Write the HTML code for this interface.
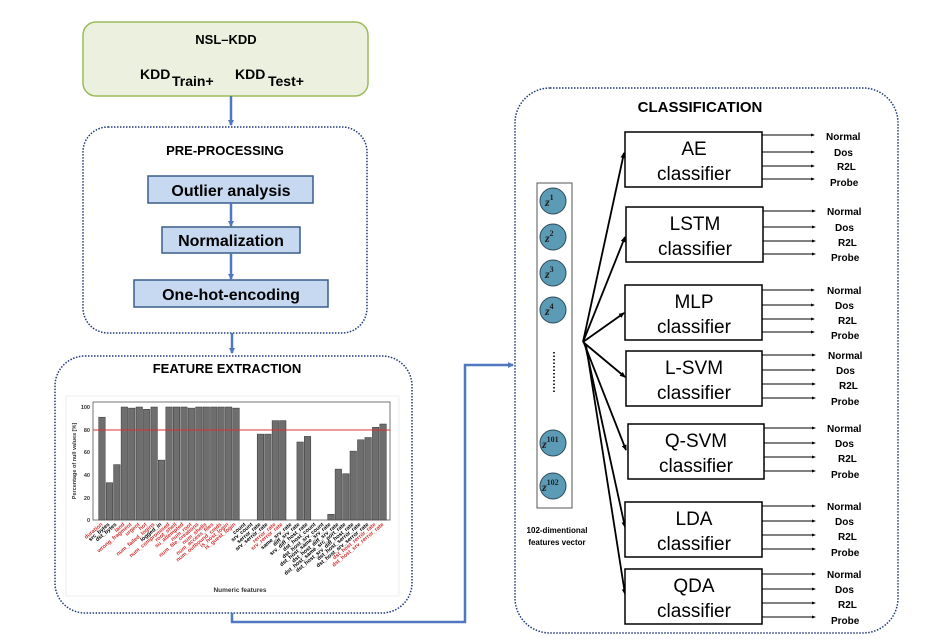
<!DOCTYPE html>
<html><head><meta charset="utf-8"><style>
html,body{margin:0;padding:0;background:#fff}
svg{display:block;font-family:"Liberation Sans",Arial,sans-serif}
.b{font-weight:bold}
.fl text{font-size:5.5px;font-weight:bold}
</style></head><body>
<svg width="940" height="639" viewBox="0 0 940 639" xmlns="http://www.w3.org/2000/svg">
<defs>
<marker id="ba" markerWidth="6" markerHeight="6" refX="5" refY="3" orient="auto" markerUnits="userSpaceOnUse"><path d="M0,0 L6,3 L0,6 z" fill="#4f78c0"/></marker>
<marker id="ka" markerWidth="6" markerHeight="6" refX="5" refY="3" orient="auto" markerUnits="userSpaceOnUse"><path d="M0,0.5 L6,3 L0,5.5 z" fill="#000"/></marker>
<marker id="sa" markerWidth="4" markerHeight="4" refX="3" refY="2" orient="auto" markerUnits="userSpaceOnUse"><path d="M0,0.5 L4,2 L0,3.5 z" fill="#000"/></marker>
</defs>

<!-- NSL-KDD -->
<rect x="83" y="22" width="285" height="74" rx="13" fill="#ebf1de" stroke="#9bbb59" stroke-width="1.5"/>
<text x="226" y="44" text-anchor="middle" class="b" font-size="13">NSL–KDD</text>
<g class="b" font-size="14">
<text x="140" y="79">KDD</text><text x="172" y="86">Train+</text>
<text x="235" y="79">KDD</text><text x="268" y="86">Test+</text>
</g>
<line x1="231" y1="96" x2="231" y2="125" stroke="#4f78c0" stroke-width="2.5" marker-end="url(#ba)"/>

<!-- Pre-processing -->
<rect x="83" y="127" width="284" height="206" rx="25" fill="none" stroke="#1f3a7a" stroke-width="1.5" stroke-dasharray="1.5,1.5"/>
<text x="225" y="155" text-anchor="middle" class="b" font-size="13">PRE-PROCESSING</text>
<rect x="148" y="176" width="165" height="27" fill="#c6d9f1" stroke="#385d8a" stroke-width="1.5"/>
<text x="231" y="196" text-anchor="middle" class="b" font-size="16">Outlier analysis</text>
<line x1="231" y1="203" x2="231" y2="226" stroke="#4f78c0" stroke-width="2.5" marker-end="url(#ba)"/>
<rect x="162" y="227" width="138" height="26" fill="#c6d9f1" stroke="#385d8a" stroke-width="1.5"/>
<text x="231" y="246" text-anchor="middle" class="b" font-size="16">Normalization</text>
<line x1="231" y1="253" x2="231" y2="279" stroke="#4f78c0" stroke-width="2.5" marker-end="url(#ba)"/>
<rect x="134" y="280" width="194" height="27" fill="#c6d9f1" stroke="#385d8a" stroke-width="1.5"/>
<text x="231" y="300" text-anchor="middle" class="b" font-size="16">One-hot-encoding</text>
<line x1="232" y1="333" x2="232" y2="353" stroke="#4f78c0" stroke-width="2.5" marker-end="url(#ba)"/>

<!-- Feature extraction -->
<rect x="55" y="356" width="357" height="257" rx="30" fill="none" stroke="#1f3a7a" stroke-width="1.5" stroke-dasharray="1.5,1.5"/>
<text x="227" y="373" text-anchor="middle" class="b" font-size="13">FEATURE EXTRACTION</text>
<rect x="66" y="396" width="333" height="200" fill="#fff" stroke="#eee"/>
<rect x="93" y="402" width="297" height="118" fill="#fff" stroke="#555" stroke-width="0.8"/>
<g font-size="5.5" class="b" text-anchor="end" fill="#333">
<text x="90" y="409">100</text><text x="90" y="432">80</text><text x="90" y="454">60</text><text x="90" y="477">40</text><text x="90" y="500">20</text><text x="90" y="522">0</text>
</g>
<text transform="translate(76,461) rotate(-90)" text-anchor="middle" font-size="5.5" class="b" fill="#333">Percentage of null values [%]</text>
<g fill="#6e6e6e" stroke="#333" stroke-width="0.5">
<rect x="98.7" y="417.2" width="6.5" height="102.8"/>
<rect x="106.2" y="482.7" width="6.5" height="37.3"/>
<rect x="113.6" y="464.6" width="6.5" height="55.4"/>
<rect x="121.1" y="407" width="6.5" height="113"/>
<rect x="128.5" y="408.1" width="6.5" height="111.9"/>
<rect x="136.0" y="407" width="6.5" height="113"/>
<rect x="143.4" y="409.3" width="6.5" height="110.7"/>
<rect x="150.9" y="407" width="6.5" height="113"/>
<rect x="158.3" y="460.1" width="6.5" height="59.9"/>
<rect x="165.8" y="407" width="6.5" height="113"/>
<rect x="173.2" y="407" width="6.5" height="113"/>
<rect x="180.7" y="407" width="6.5" height="113"/>
<rect x="188.1" y="408.1" width="6.5" height="111.9"/>
<rect x="195.6" y="407" width="6.5" height="113"/>
<rect x="203.0" y="407" width="6.5" height="113"/>
<rect x="210.5" y="407" width="6.5" height="113"/>
<rect x="217.9" y="407" width="6.5" height="113"/>
<rect x="225.4" y="407" width="6.5" height="113"/>
<rect x="232.8" y="408.1" width="6.5" height="111.9"/>
<rect x="257.2" y="434.1" width="6.5" height="85.9"/>
<rect x="264.6" y="434.1" width="6.5" height="85.9"/>
<rect x="272.1" y="420.6" width="6.5" height="99.4"/>
<rect x="279.5" y="420.6" width="6.5" height="99.4"/>
<rect x="296.9" y="442" width="6.5" height="78"/>
<rect x="304.3" y="436.4" width="6.5" height="83.6"/>
<rect x="327.7" y="514.3" width="6.5" height="5.7"/>
<rect x="335.1" y="469.1" width="6.5" height="50.9"/>
<rect x="342.6" y="473.7" width="6.5" height="46.3"/>
<rect x="350.0" y="451.1" width="6.5" height="68.9"/>
<rect x="357.5" y="439.8" width="6.5" height="80.2"/>
<rect x="364.9" y="437.5" width="6.5" height="82.5"/>
<rect x="372.4" y="427.3" width="6.5" height="92.7"/>
<rect x="379.8" y="424" width="6.5" height="96"/>
</g>
<line x1="93" y1="430" x2="390" y2="430" stroke="#e03030" stroke-width="1"/>
<g class="fl" text-anchor="end">
<text transform="translate(103,525) rotate(-40)" fill="#d03030">duration</text>
<text transform="translate(110,525) rotate(-40)">src_bytes</text>
<text transform="translate(117,525) rotate(-40)">dst_bytes</text>
<text transform="translate(125,525) rotate(-40)" fill="#d03030">land</text>
<text transform="translate(132,525) rotate(-40)" fill="#d03030">wrong_fragment</text>
<text transform="translate(140,525) rotate(-40)" fill="#d03030">urgent</text>
<text transform="translate(147,525) rotate(-40)" fill="#d03030">hot</text>
<text transform="translate(155,525) rotate(-40)" fill="#d03030">num_failed_logins</text>
<text transform="translate(162,525) rotate(-40)">logged_in</text>
<text transform="translate(170,525) rotate(-40)" fill="#d03030">num_compromised</text>
<text transform="translate(177,525) rotate(-40)" fill="#d03030">root_shell</text>
<text transform="translate(184,525) rotate(-40)" fill="#d03030">su_attempted</text>
<text transform="translate(192,525) rotate(-40)" fill="#d03030">num_root</text>
<text transform="translate(199,525) rotate(-40)" fill="#d03030">num_file_creations</text>
<text transform="translate(207,525) rotate(-40)" fill="#d03030">num_shells</text>
<text transform="translate(214,525) rotate(-40)" fill="#d03030">num_access_files</text>
<text transform="translate(222,525) rotate(-40)" fill="#d03030">num_outbound_cmds</text>
<text transform="translate(229,525) rotate(-40)" fill="#d03030">is_host_login</text>
<text transform="translate(236,525) rotate(-40)" fill="#d03030">is_guest_login</text>
<text transform="translate(246,525) rotate(-40)">count</text>
<text transform="translate(253,525) rotate(-40)">srv_count</text>
<text transform="translate(261,525) rotate(-40)">serror_rate</text>
<text transform="translate(268,525) rotate(-40)">srv_serror_rate</text>
<text transform="translate(276,525) rotate(-40)" fill="#d03030">rerror_rate</text>
<text transform="translate(283,525) rotate(-40)" fill="#d03030">srv_rerror_rate</text>
<text transform="translate(292,525) rotate(-40)">same_srv_rate</text>
<text transform="translate(300,525) rotate(-40)">diff_srv_rate</text>
<text transform="translate(308,525) rotate(-40)">srv_diff_host_rate</text>
<text transform="translate(316,525) rotate(-40)">dst_host_count</text>
<text transform="translate(324,525) rotate(-40)">dst_host_srv_count</text>
<text transform="translate(331,525) rotate(-40)">dst_host_same_srv_rate</text>
<text transform="translate(339,525) rotate(-40)">dst_host_diff_srv_rate</text>
<text transform="translate(346,525) rotate(-40)">dst_host_same_src_port_rate</text>
<text transform="translate(354,525) rotate(-40)">dst_host_srv_diff_host_rate</text>
<text transform="translate(361,525) rotate(-40)">dst_host_serror_rate</text>
<text transform="translate(369,525) rotate(-40)">dst_host_srv_serror_rate</text>
<text transform="translate(376,525) rotate(-40)" fill="#d03030">dst_host_rerror_rate</text>
<text transform="translate(384,525) rotate(-40)" fill="#d03030">dst_host_srv_rerror_rate</text>
</g>
<text x="240" y="592" text-anchor="middle" font-size="6.5" class="b" fill="#333">Numeric features</text>

<!-- connector -->
<polyline points="232,613 232,622 465,622 465,365 513,365" fill="none" stroke="#4f78c0" stroke-width="2.5" marker-end="url(#ba)"/>

<!-- Classification -->
<rect x="515" y="88" width="383" height="545" rx="35" fill="none" stroke="#1f3a7a" stroke-width="1.5" stroke-dasharray="1.5,1.5"/>
<text x="700" y="112" text-anchor="middle" class="b" font-size="15">CLASSIFICATION</text>

<rect x="537" y="183" width="35" height="325" fill="#fff" stroke="#555" stroke-width="1"/>
<g fill="#5b9bb5" stroke="#2c4a5a" stroke-width="1">
<circle cx="553" cy="201" r="13"/><circle cx="553" cy="237" r="13"/><circle cx="553" cy="273" r="13"/><circle cx="553" cy="310" r="13"/><circle cx="553" cy="443" r="13"/><circle cx="553" cy="486" r="13"/>
</g>
<g font-family="Liberation Serif,serif" font-style="italic" font-weight="bold" font-size="12" fill="#222">
<text x="545" y="206">z<tspan font-size="8" dy="-6" font-style="normal">1</tspan></text>
<text x="545" y="242">z<tspan font-size="8" dy="-6" font-style="normal">2</tspan></text>
<text x="545" y="278">z<tspan font-size="8" dy="-6" font-style="normal">3</tspan></text>
<text x="545" y="315">z<tspan font-size="8" dy="-6" font-style="normal">4</tspan></text>
<text x="542" y="448">z<tspan font-size="8" dy="-6" font-style="normal">101</tspan></text>
<text x="542" y="491">z<tspan font-size="8" dy="-6" font-style="normal">102</tspan></text>
</g>
<line x1="554" y1="352" x2="554" y2="392" stroke="#333" stroke-width="2" stroke-dasharray="1.5,2"/>
<text x="557" y="533" text-anchor="middle" class="b" font-size="8">102-dimentional</text>
<text x="557" y="545" text-anchor="middle" class="b" font-size="8">features vector</text>

<!-- fan -->
<g stroke="#000" stroke-width="1.8" fill="none">
<line x1="583" y1="342" x2="624" y2="153" marker-end="url(#ka)"/>
<line x1="583" y1="342" x2="625" y2="237" marker-end="url(#ka)"/>
<line x1="583" y1="342" x2="624" y2="313" marker-end="url(#ka)"/>
<line x1="583" y1="342" x2="625" y2="377" marker-end="url(#ka)"/>
<line x1="584" y1="343" x2="626" y2="450" marker-end="url(#ka)"/>
<line x1="585" y1="344" x2="625" y2="527" marker-end="url(#ka)"/>
<line x1="586" y1="345" x2="625" y2="594" marker-end="url(#ka)"/>
</g>

<g fill="#fff" stroke="#000" stroke-width="1.5">
<rect x="625" y="132" width="137" height="55"/>
<rect x="626" y="207" width="137" height="55"/>
<rect x="625" y="285" width="137" height="55"/>
<rect x="626" y="351" width="136" height="55"/>
<rect x="628" y="424" width="136" height="55"/>
<rect x="625" y="502" width="137" height="55"/>
<rect x="625" y="569" width="137" height="55"/>
</g>
<g font-size="19" text-anchor="middle">
<text x="694" y="155">AE</text><text x="694" y="180">classifier</text>
<text x="695" y="230">LSTM</text><text x="695" y="255">classifier</text>
<text x="694" y="308">MLP</text><text x="694" y="333">classifier</text>
<text x="694" y="374">L-SVM</text><text x="694" y="399">classifier</text>
<text x="696" y="447">Q-SVM</text><text x="696" y="472">classifier</text>
<text x="694" y="525">LDA</text><text x="694" y="550">classifier</text>
<text x="694" y="592">QDA</text><text x="694" y="617">classifier</text>
</g>

<g stroke="#000" stroke-width="1" marker-end="url(#sa)">
<line x1="762" y1="135" x2="814" y2="135"/><line x1="762" y1="152" x2="814" y2="152"/><line x1="762" y1="166" x2="814" y2="166"/><line x1="762" y1="179" x2="814" y2="179"/>
<line x1="763" y1="211" x2="815" y2="211"/><line x1="763" y1="227" x2="815" y2="227"/><line x1="763" y1="241" x2="815" y2="241"/><line x1="763" y1="254" x2="815" y2="254"/>
<line x1="762" y1="290" x2="814" y2="290"/><line x1="762" y1="305" x2="814" y2="305"/><line x1="762" y1="319" x2="814" y2="319"/><line x1="762" y1="332" x2="814" y2="332"/>
<line x1="762" y1="355" x2="815" y2="355"/><line x1="762" y1="370" x2="815" y2="370"/><line x1="762" y1="384" x2="815" y2="384"/><line x1="762" y1="398" x2="815" y2="398"/>
<line x1="764" y1="428" x2="815" y2="428"/><line x1="764" y1="443" x2="815" y2="443"/><line x1="764" y1="457" x2="815" y2="457"/><line x1="764" y1="471" x2="815" y2="471"/>
<line x1="762" y1="506" x2="815" y2="506"/><line x1="762" y1="521" x2="815" y2="521"/><line x1="762" y1="535" x2="815" y2="535"/><line x1="762" y1="549" x2="815" y2="549"/>
<line x1="762" y1="574" x2="815" y2="574"/><line x1="762" y1="589" x2="815" y2="589"/><line x1="762" y1="603" x2="815" y2="603"/><line x1="762" y1="617" x2="815" y2="617"/>
</g>
<g class="b" font-size="10">
<text x="826" y="140">Normal</text><text x="834" y="156">Dos</text><text x="837" y="170">R2L</text><text x="830" y="186">Probe</text>
<text x="827" y="215">Normal</text><text x="835" y="231">Dos</text><text x="838" y="246">R2L</text><text x="831" y="261">Probe</text>
<text x="827" y="294">Normal</text><text x="835" y="309">Dos</text><text x="838" y="324">R2L</text><text x="831" y="339">Probe</text>
<text x="828" y="359">Normal</text><text x="836" y="374">Dos</text><text x="839" y="389">R2L</text><text x="831" y="405">Probe</text>
<text x="827" y="432">Normal</text><text x="835" y="447">Dos</text><text x="838" y="462">R2L</text><text x="831" y="478">Probe</text>
<text x="827" y="510">Normal</text><text x="835" y="525">Dos</text><text x="838" y="540">R2L</text><text x="831" y="556">Probe</text>
<text x="827" y="578">Normal</text><text x="835" y="593">Dos</text><text x="838" y="608">R2L</text><text x="831" y="624">Probe</text>
</g>
</svg>
</body></html>
